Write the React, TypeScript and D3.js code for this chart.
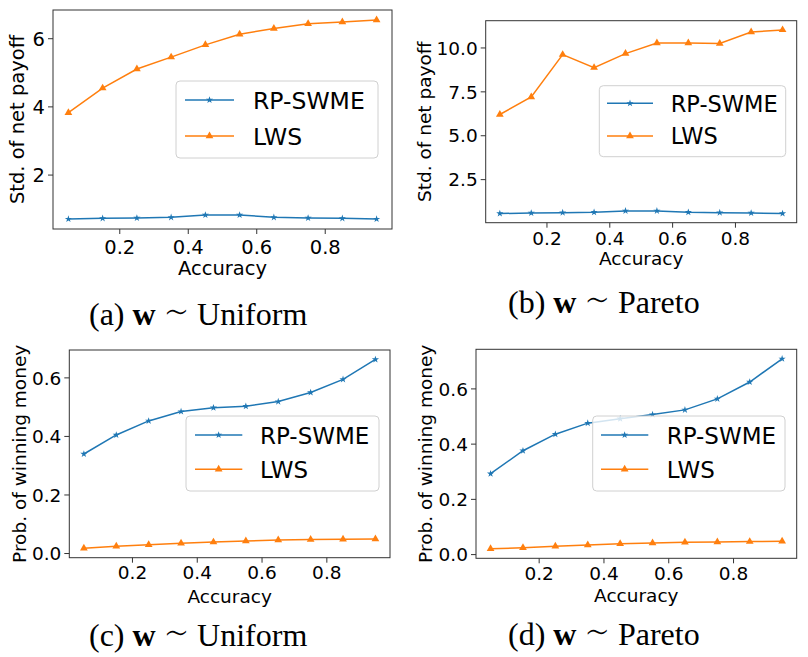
import * as d3 from "d3";
import React from "react";

// accuracy levels on the x axis
const accuracy = [0.05, 0.15, 0.25, 0.35, 0.45, 0.55, 0.65, 0.75, 0.85, 0.95];

// (a) std of net payoff, w ~ Uniform
const uniformStdRp = [0.71, 0.73, 0.74, 0.76, 0.83, 0.83, 0.76, 0.74, 0.73, 0.71];
const uniformStdLws = [3.83, 4.55, 5.11, 5.46, 5.82, 6.13, 6.3, 6.44, 6.49, 6.55];

// (b) std of net payoff, w ~ Pareto
const paretoStdRp = [0.57, 0.6, 0.62, 0.64, 0.72, 0.72, 0.64, 0.62, 0.6, 0.57];
const paretoStdLws = [6.21, 7.21, 9.62, 8.88, 9.68, 10.28, 10.28, 10.25, 10.91, 11.03];

// (c) prob. of winning money, w ~ Uniform
const uniformProbRp = [0.34, 0.405, 0.453, 0.485, 0.498, 0.503, 0.519, 0.55, 0.595, 0.663];
const uniformProbLws = [0.018, 0.025, 0.03, 0.035, 0.039, 0.043, 0.046, 0.048, 0.049, 0.05];

// (d) prob. of winning money, w ~ Pareto
const paretoProbRp = [0.293, 0.376, 0.436, 0.476, 0.492, 0.507, 0.524, 0.564, 0.625, 0.709];
const paretoProbLws = [0.021, 0.025, 0.03, 0.035, 0.039, 0.042, 0.045, 0.046, 0.047, 0.048];

const xTicks = [0.2, 0.4, 0.6, 0.8];
const stdTicksUniform = [2, 4, 6];
const stdTicksPareto = [2.5, 5, 7.5, 10];
const probTicks = [0, 0.2, 0.4, 0.6];

const seriesNames = ["RP-SWME", "LWS"];
const blue = "#1f77b4";
const orange = "#ff7f0e";
const font = "DejaVu Sans, sans-serif";

// matplotlib-style 5% auto margins
const padded = (vals: number[]): [number, number] => {
  const [lo, hi] = d3.extent(vals) as [number, number];
  const m = (hi - lo) * 0.05;
  return [lo - m, hi + m];
};

const star = d3.symbol(d3.symbolStar, 16)()!;
const tri = d3.symbol(d3.symbolTriangle, 26)()!;

interface PanelProps {
  box: { l: number; r: number; t: number; b: number };
  rp: number[];
  lws: number[];
  yTicks: number[];
  yFmt: (v: number) => string;
  yLabel: string;
  yLabelX: number;
  fs: number;
  tickDy: number;
  labelDy: number;
  legend: { x: number; y: number; w: number; h: number; r1: number; r2: number; lx1: number; lx2: number; tx: number; fs: number };
  tag: string;
  dist: string;
  capX: number;
  capY: number;
}

const Panel = (p: PanelProps) => {
  const { box } = p;
  const x = d3.scaleLinear().domain(padded(accuracy)).range([box.l, box.r]);
  const y = d3.scaleLinear().domain(padded([...p.rp, ...p.lws])).range([box.b, box.t]);
  const line = d3
    .line<number>()
    .x((_, i) => x(accuracy[i]))
    .y((d) => y(d));
  const lg = p.legend;
  const cy = (box.t + box.b) / 2;
  return (
    <g>
      <path d={line(p.lws)!} fill="none" stroke={orange} strokeWidth={1.5} />
      {p.lws.map((v, i) => (
        <path key={"t" + i} d={tri} transform={`translate(${x(accuracy[i])},${y(v)})`} fill={orange} />
      ))}
      <path d={line(p.rp)!} fill="none" stroke={blue} strokeWidth={1.5} />
      {p.rp.map((v, i) => (
        <path key={"s" + i} d={star} transform={`translate(${x(accuracy[i])},${y(v)})`} fill={blue} />
      ))}
      <rect x={box.l} y={box.t} width={box.r - box.l} height={box.b - box.t} fill="none" stroke="#333" strokeWidth={1} />
      {xTicks.map((t) => (
        <g key={"x" + t}>
          <line x1={x(t)} x2={x(t)} y1={box.b} y2={box.b + 5} stroke="#333" />
          <text x={x(t)} y={box.b + p.tickDy} textAnchor="middle" fontSize={p.fs} fontFamily={font}>
            {t.toFixed(1)}
          </text>
        </g>
      ))}
      {p.yTicks.map((t) => (
        <g key={"y" + t}>
          <line x1={box.l - 5} x2={box.l} y1={y(t)} y2={y(t)} stroke="#333" />
          <text x={box.l - 8} y={y(t)} dy="0.36em" textAnchor="end" fontSize={p.fs} fontFamily={font}>
            {p.yFmt(t)}
          </text>
        </g>
      ))}
      <text x={(box.l + box.r) / 2} y={box.b + p.labelDy} textAnchor="middle" fontSize={p.fs} fontFamily={font}>
        Accuracy
      </text>
      <text
        transform={`translate(${p.yLabelX},${cy}) rotate(-90)`}
        textAnchor="middle"
        fontSize={p.fs}
        fontFamily={font}
      >
        {p.yLabel}
      </text>
      <rect x={lg.x} y={lg.y} width={lg.w} height={lg.h} rx={4} fill="white" fillOpacity={0.8} stroke="#d0d0d0" />
      {[lg.r1, lg.r2].map((ry, i) => (
        <g key={"l" + i}>
          <line x1={lg.lx1} x2={lg.lx2} y1={ry} y2={ry} stroke={i === 0 ? blue : orange} strokeWidth={1.5} />
          <path
            d={i === 0 ? star : tri}
            transform={`translate(${(lg.lx1 + lg.lx2) / 2},${ry})`}
            fill={i === 0 ? blue : orange}
          />
          <text x={lg.tx} y={ry + lg.fs * 0.37} fontSize={lg.fs} fontFamily={font}>
            {seriesNames[i]}
          </text>
        </g>
      ))}
      <text x={p.capX} y={p.capY} fontSize={32} fontFamily="Liberation Serif, Times New Roman, serif">
        {p.tag}{" "}
        <tspan fontWeight="bold">w</tspan>{" "}
        <tspan fontFamily="DejaVu Sans ExtraLight, DejaVu Sans, sans-serif" fontWeight={200} fontSize={40} dy={1}>
          ∼
        </tspan>
        <tspan dy={-1}> {p.dist}</tspan>
      </text>
    </g>
  );
};

const one = (v: number) => v.toFixed(1);
const plain = (v: number) => String(v);

export default function App() {
  return (
    <svg width={808} height={657} style={{ position: "absolute", left: 0, top: 0, background: "white" }}>
      <Panel
        box={{ l: 53, r: 392, t: 10, b: 229 }}
        rp={uniformStdRp}
        lws={uniformStdLws}
        yTicks={stdTicksUniform}
        yFmt={plain}
        yLabel="Std. of net payoff"
        yLabelX={24}
        fs={19.5}
        tickDy={24.5}
        labelDy={46}
        legend={{ x: 176, y: 81, w: 202, h: 77, r1: 100, r2: 136, lx1: 185, lx2: 234, tx: 253, fs: 23.5 }}
        tag="(a)"
        dist="Uniform"
        capX={89}
        capY={325}
      />
      <Panel
        box={{ l: 485.7, r: 796.7, t: 20.7, b: 222.7 }}
        rp={paretoStdRp}
        lws={paretoStdLws}
        yTicks={stdTicksPareto}
        yFmt={one}
        yLabel="Std. of net payoff"
        yLabelX={430.5}
        fs={18.5}
        tickDy={22.5}
        labelDy={42.5}
        legend={{ x: 599.3, y: 85.7, w: 186.4, h: 71, r1: 103.3, r2: 136, lx1: 607, lx2: 653, tx: 670.7, fs: 22.5 }}
        tag="(b)"
        dist="Pareto"
        capX={508}
        capY={313}
      />
      <Panel
        box={{ l: 69.3, r: 390, t: 350, b: 557.7 }}
        rp={uniformProbRp}
        lws={uniformProbLws}
        yTicks={probTicks}
        yFmt={one}
        yLabel="Prob. of winning money"
        yLabelX={25.6}
        fs={18.5}
        tickDy={21}
        labelDy={45.5}
        legend={{ x: 186, y: 416, w: 193, h: 75, r1: 435, r2: 469.3, lx1: 195, lx2: 242.3, tx: 260, fs: 23 }}
        tag="(c)"
        dist="Uniform"
        capX={89}
        capY={646}
      />
      <Panel
        box={{ l: 476, r: 796.7, t: 349.3, b: 558.3 }}
        rp={paretoProbRp}
        lws={paretoProbLws}
        yTicks={probTicks}
        yFmt={one}
        yLabel="Prob. of winning money"
        yLabelX={432}
        fs={18.5}
        tickDy={21.5}
        labelDy={43.5}
        legend={{ x: 592.7, y: 416, w: 192.3, h: 75, r1: 435, r2: 469.3, lx1: 601, lx2: 648.3, tx: 666.7, fs: 23 }}
        tag="(d)"
        dist="Pareto"
        capX={508}
        capY={645}
      />
    </svg>
  );
}
